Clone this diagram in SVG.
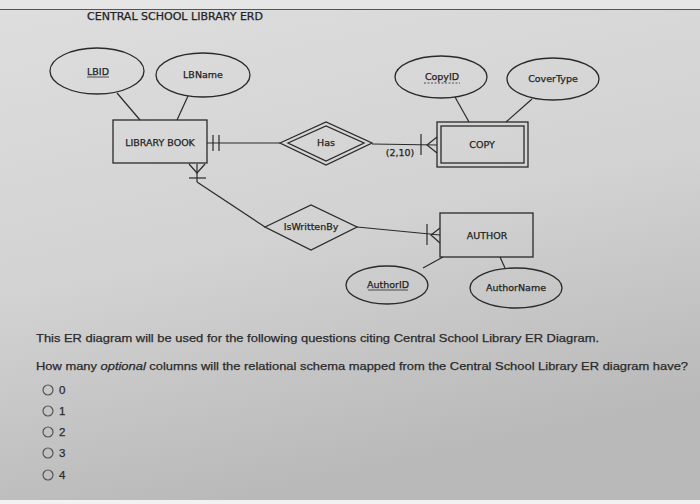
<svg xmlns="http://www.w3.org/2000/svg" width="700" height="504" viewBox="0 0 700 504">
<defs>
<linearGradient id="bg" x1="0" y1="0" x2="0.3" y2="1">
<stop offset="0" stop-color="#dedede"/>
<stop offset="0.55" stop-color="#d2d2d2"/>
<stop offset="1" stop-color="#b9b9b9"/>
</linearGradient>
<style>
.sh{fill:none;stroke:#2a2a2a;stroke-width:1.3}
.ln{fill:none;stroke:#2a2a2a;stroke-width:1.2}
.lbl{font-family:"DejaVu Sans",Verdana,sans-serif;font-size:9.5px;fill:#222;stroke:#222;stroke-width:0.25;text-anchor:middle}
.q{font-family:"Liberation Sans",Arial,sans-serif;font-size:11.5px;fill:#2a2a2a;stroke:#2a2a2a;stroke-width:0.25}
.rad{fill:none;stroke:#555;stroke-width:1.2}
</style>
</defs>
<rect x="0" y="0" width="700" height="504" fill="url(#bg)"/>
<rect x="0" y="0" width="700" height="9" fill="#e6e6e6"/>
<line x1="0" y1="9.5" x2="700" y2="9.5" stroke="#555" stroke-width="1"/>
<rect x="0" y="500" width="700" height="4" fill="#f2f2f2"/>
<text x="87" y="20" font-family="DejaVu Sans,Verdana,sans-serif" font-size="10.5" fill="#222" stroke="#222" stroke-width="0.25" textLength="176" lengthAdjust="spacingAndGlyphs">CENTRAL SCHOOL LIBRARY ERD</text>

<g id="connectors">
<line class="ln" x1="117" y1="93" x2="140" y2="120"/>
<line class="ln" x1="188" y1="96" x2="177" y2="120"/>
<line class="ln" x1="455" y1="97" x2="469" y2="122"/>
<line class="ln" x1="532" y1="99" x2="506" y2="122"/>
<line class="ln" x1="423" y1="268" x2="443" y2="257"/>
<line class="ln" x1="500" y1="257" x2="505" y2="268"/>
<line class="ln" x1="207" y1="143" x2="280" y2="143"/>
<line class="ln" x1="213" y1="135" x2="213" y2="151"/>
<line class="ln" x1="219" y1="135" x2="219" y2="151"/>
<line class="ln" x1="372" y1="144" x2="437" y2="145"/>
<line class="ln" x1="421" y1="134" x2="421" y2="155"/>
<polyline class="ln" points="437,137 427,145 437,153"/>
<text x="400" y="156" class="lbl">(2,10)</text>
<polyline class="ln" points="189,164 197,173 205,164"/>
<line class="ln" x1="197" y1="164" x2="197" y2="182"/>
<line class="ln" x1="189" y1="178" x2="206" y2="178"/>
<line class="ln" x1="197" y1="182" x2="265" y2="227"/>
<line class="ln" x1="357" y1="227" x2="440" y2="235"/>
<line class="ln" x1="427" y1="224" x2="427" y2="245"/>
<polyline class="ln" points="440,228 431,235 440,243"/>
</g>

<g id="LBID">
<ellipse class="sh" cx="97" cy="71" rx="47" ry="23"/>
<text x="98" y="75" class="lbl">LBID</text>
<line x1="87" y1="77" x2="109" y2="77" stroke="#2a2a2a" stroke-width="0.8"/>
</g>
<g id="LBName">
<ellipse class="sh" cx="203" cy="75" rx="47" ry="22"/>
<text x="203" y="78" class="lbl">LBName</text>
</g>
<g id="LIBRARYBOOK">
<rect class="sh" x="113" y="120" width="94" height="43"/>
<text x="160" y="146" class="lbl">LIBRARY BOOK</text>
</g>
<g id="Has">
<polygon class="sh" points="280,143 326,122 372,143 326,165"/>
<polygon class="sh" points="288,143 326,126 364,143 326,161"/>
<text x="326" y="146" class="lbl">Has</text>
</g>
<g id="CopyID">
<ellipse class="sh" cx="441" cy="77" rx="46" ry="21"/>
<text x="442" y="80" class="lbl">CopyID</text>
<line x1="424" y1="83" x2="460" y2="83" stroke="#2a2a2a" stroke-width="0.8" stroke-dasharray="2,1.5"/>
</g>
<g id="CoverType">
<ellipse class="sh" cx="553" cy="79" rx="46" ry="21"/>
<text x="553" y="82" class="lbl">CoverType</text>
</g>
<g id="COPY">
<rect class="sh" x="437" y="122" width="91" height="45"/>
<rect class="sh" x="441" y="126" width="83" height="37"/>
<text x="482" y="148" class="lbl">COPY</text>
</g>
<g id="IsWrittenBy">
<polygon class="sh" points="265,227 311,205 357,227 311,250"/>
<text x="311" y="230" class="lbl">IsWrittenBy</text>
</g>
<g id="AUTHOR">
<rect class="sh" x="440" y="213" width="93" height="44"/>
<text x="487" y="239" class="lbl">AUTHOR</text>
</g>
<g id="AuthorID">
<ellipse class="sh" cx="387" cy="285" rx="41" ry="19"/>
<text x="388" y="288" class="lbl">AuthorID</text>
<line x1="368" y1="290" x2="408" y2="290" stroke="#2a2a2a" stroke-width="0.8"/>
</g>
<g id="AuthorName">
<ellipse class="sh" cx="516" cy="288" rx="46" ry="20"/>
<text x="516" y="291" class="lbl">AuthorName</text>
</g>

<text x="36" y="342" class="q" textLength="563" lengthAdjust="spacingAndGlyphs">This ER diagram will be used for the following questions citing Central School Library ER Diagram.</text>
<text x="36" y="370" class="q" textLength="652" lengthAdjust="spacingAndGlyphs">How many <tspan font-style="italic">optional</tspan> columns will the relational schema mapped from the Central School Library ER diagram have?</text>

<g id="options">
<circle class="rad" cx="48" cy="390" r="5"/>
<text x="59" y="394" class="q">0</text>
<circle class="rad" cx="48" cy="411" r="5"/>
<text x="59" y="415" class="q">1</text>
<circle class="rad" cx="48" cy="432" r="5"/>
<text x="59" y="436" class="q">2</text>
<circle class="rad" cx="48" cy="453" r="5"/>
<text x="59" y="457" class="q">3</text>
<circle class="rad" cx="48" cy="475" r="5"/>
<text x="59" y="479" class="q">4</text>
</g>
</svg>
